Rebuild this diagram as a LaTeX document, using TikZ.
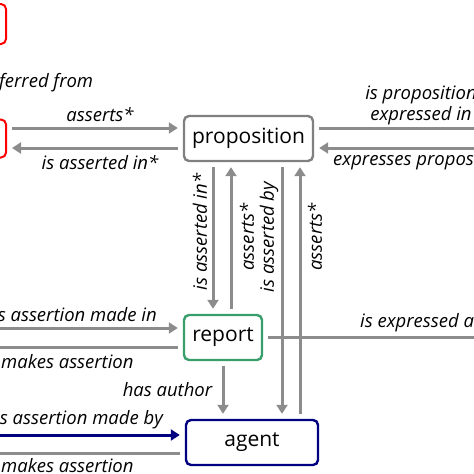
\documentclass[tikz,border=0pt]{standalone}
\usepackage{fontspec}
\setmainfont{Open Sans}
\usetikzlibrary{arrows.meta}
\definecolor{linegray}{RGB}{140,140,140}
\definecolor{boxgray}{RGB}{128,128,128}
\definecolor{repgreen}{RGB}{56,158,108}
\definecolor{agnavy}{RGB}{0,0,128}
\tikzset{
  cls/.style={draw, rounded corners=5pt, line width=2.4pt, minimum height=45pt,
    inner sep=0pt, font=\fontsize{21}{25}\selectfont},
  lbl/.style={inner sep=0pt, font=\itshape\fontsize{18.5}{21}\selectfont},
  arr/.style={draw=linegray, line width=3pt, shorten <=5pt, shorten >=5pt,
    -{Triangle[width=11pt,length=9pt]}}
}
\begin{document}
\begin{tikzpicture}[x=1pt,y=-1pt]
      \useasboundingbox (0,0) rectangle (474,474);
      \clip (0,0) rectangle (474,474);
      \draw
        (-33,24) node[cls, draw=red, line width=2pt, minimum width=78pt, minimum height=40pt] (src){}
        (-33,138.5) node[cls, draw=red, line width=2pt, minimum width=78pt, minimum height=38pt] (doc){}
        (248.5,138.5) node[cls, draw=boxgray, minimum width=129pt] (prop){proposition}
        (223,337.5) node[cls, draw=repgreen, minimum width=78pt] (rep){report}
        (252,442.5) node[cls, draw=agnavy, minimum width=132pt] (agent){agent};
      % ends outside the frame
      \coordinate (l1) at (-20,328);
      \coordinate (l2) at (-20,347);
      \coordinate (l3) at (-20,435);
      \coordinate (l4) at (-20,453);
      \coordinate (r1) at (490,128);
      \coordinate (r2) at (490,148);
      \coordinate (r3) at (490,337.5);
      \begin{scope}[arr]
        \draw ([yshift=10.5pt]doc.east) to ([yshift=10.5pt]prop.west);
        \draw ([yshift=-9.5pt]prop.west) to ([yshift=-9.5pt]doc.east);
        \draw ([yshift=10.5pt]prop.east) to (r1);
        \draw (r2) to ([yshift=-9.5pt]prop.east);
        \draw ([xshift=-35.5pt]prop.south) to ([xshift=-10pt]rep.north);
        \draw ([xshift=8pt]rep.north) to ([xshift=-17.5pt]prop.south);
        \draw ([xshift=33.5pt]prop.south) to ([xshift=30pt]agent.north);
        \draw ([xshift=48pt]agent.north) to ([xshift=51.5pt]prop.south);
        \draw (rep.south) to ([xshift=-29pt]agent.north);
        \draw (rep.east) to (r3);
        \draw (l1) to ([yshift=9.5pt]rep.west);
        \draw ([yshift=-9.5pt]rep.west) to (l2);
        \draw[draw=agnavy] (l3) to ([yshift=7.5pt]agent.west);
        \draw ([yshift=-10.5pt]agent.west) to (l4);
      \end{scope}
      % labels
      \node[lbl, anchor=west] (t1) at (-1,83) {ferred from};
      \node[lbl] (t2) at (100,115) {asserts*};
      \node[lbl] (t3) at (100,163) {is asserted in*};
      \node[lbl, align=center] (t4) at (421,105) {is proposition\\expressed in};
      \node[lbl, anchor=west] (t5) at (333,163) {expresses propos};
      \node[lbl, rotate=90] (t6) at (200,232) {is asserted in*};
      \node[lbl, rotate=90] (t7) at (247,237) {asserts*};
      \node[lbl, rotate=90] (t8) at (269,237) {is asserted by};
      \node[lbl, rotate=90] (t9) at (315,237) {asserts*};
      \node[lbl, anchor=east] (t10) at (157,315) {s assertion made in};
      \node[lbl, anchor=west] (t11) at (1,362) {makes assertion};
      \node[lbl] (t12) at (167.5,390) {has author};
      \node[lbl, anchor=east] (t13) at (163,420) {s assertion made by};
      \node[lbl, anchor=west] (t14) at (1,466) {makes assertion};
      \node[lbl, anchor=west] (t15) at (360,323) {is expressed a};
    \end{tikzpicture}
\end{document}
